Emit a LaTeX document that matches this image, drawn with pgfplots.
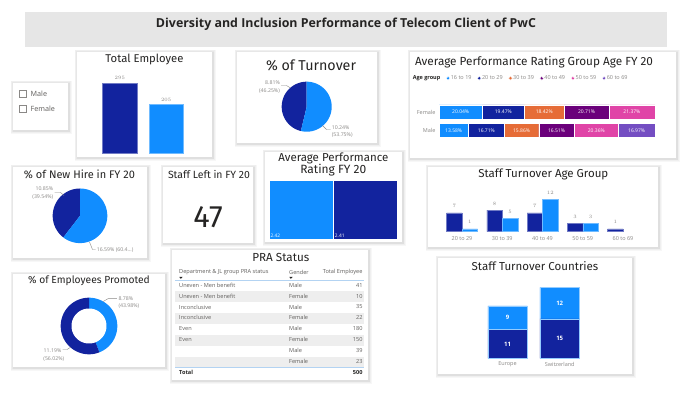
\documentclass[border=0pt]{standalone}
\usepackage{fontspec}
\setmainfont{Open Sans}
\newfontfamily\din{Fira Sans}
\usepackage{graphicx}
\usepackage{pgfplots}
\pgfplotsset{compat=1.18}
\definecolor{pbBlue}{HTML}{118DFF}
\definecolor{pbNavy}{HTML}{12239E}
\definecolor{pbOrange}{HTML}{E66C37}
\definecolor{pbPurple}{HTML}{6B007B}
\definecolor{pbPink}{HTML}{E044A7}
\definecolor{pbViolet}{HTML}{744EC2}
\definecolor{txt}{HTML}{252423}
\definecolor{lbl}{HTML}{8A8886}
\definecolor{tbl}{HTML}{605E5C}
\definecolor{hdr}{HTML}{E6E6E6}
\definecolor{rowgray}{HTML}{EEEEEE}
\definecolor{tline}{HTML}{B3D3F2}
\newcommand\fs[1]{\fontsize{#1}{#1}\selectfont}
\newcommand\ptitle[2]{\resizebox{#1pt}{!}{\din\fs{10}\color{txt}#2}}
\newcommand\panel[4]{%
  \foreach \k in {3.2,2.4,1.6,0.8}{\fill[black,opacity=0.03] ({(#1-\k+0.8)*1pt},{(#2-\k-0.8)*1pt}) rectangle ({(#3+\k+0.8)*1pt},{(#4+\k-0.8)*1pt});}%
  \fill[white] (#1pt,#2pt) rectangle (#3pt,#4pt);}
\pgfplotsset{
  dotleg/.style={legend image code/.code={\fill[##1] (0pt,0pt) circle (1.8pt);}},
  pie/.style={scale only axis, width=#1, height=#1, xmin=-1, xmax=1, ymin=-1, ymax=1, hide axis, clip=false, anchor=center},
}
\begin{document}
\begin{tikzpicture}
\useasboundingbox (0pt,0pt) rectangle (680pt,393pt);
\fill[white] (0pt,0pt) rectangle (680pt,393pt);
% title bar
\fill[hdr] (25pt,346pt) rectangle (667pt,381pt);
\node[text=txt] at (346pt,368.5pt) {\resizebox{380pt}{!}{\bfseries Diversity and Inclusion Performance of Telecom Client of PwC}};

% panels
\panel{13}{263}{68}{310}
\panel{77}{236}{212}{341}
\panel{237}{250}{377}{341}
\panel{410}{235}{676}{341}
\panel{13}{135}{147}{226}
\panel{163}{150}{253}{226}
\panel{265}{151}{402}{241}
\panel{428}{146}{658}{226}
\panel{13}{26}{165}{119}
\panel{172}{13}{368}{143}
\panel{438}{19}{632}{135}

% slicer
\draw[lbl, line width=0.5pt] (19.3pt,295.3pt) rectangle (26.3pt,302.3pt);
\node[anchor=west, text=tbl, font=\fs{7.2}, inner sep=0pt] at (30.5pt,298.8pt) {Male};
\draw[lbl, line width=0.5pt] (19.3pt,280.3pt) rectangle (26.3pt,287.3pt);
\node[anchor=west, text=tbl, font=\fs{7.2}, inner sep=0pt] at (30.5pt,283.8pt) {Female};

% Total Employee
\node at (144.5pt,333.7pt) {\ptitle{78}{Total Employee}};
\begin{axis}[scale only axis, at={(96.7pt,239.7pt)}, anchor=south west, width=92.6pt, height=70pt,
  xmin=-0.5, xmax=1.5, ymin=0, ymax=295, hide axis, clip=false, ybar, bar width=34.3pt,
  nodes near coords, nodes near coords style={font=\fs{5}, text=lbl}]
\addplot[fill=pbNavy, draw=pbNavy!60!white, line width=0.5pt, bar shift=0pt] coordinates {(0,295)};
\addplot[fill=pbBlue, draw=pbBlue!60!white, line width=0.5pt, bar shift=0pt] coordinates {(1,205)};
\end{axis}

% % of Turnover
\node at (311pt,328pt) {\ptitle{90}{\% of Turnover}};
\begin{axis}[pie=50pt, at={(306.7pt,286.3pt)}]
\addplot[fill=pbNavy, draw=none, domain=90:{90+3.6*46.25}, samples=60] ({cos(x)},{sin(x)}) -- (axis cs:0,0) -- cycle;
\addplot[fill=pbBlue, draw=none, domain={90+3.6*46.25}:450, samples=70] ({cos(x)},{sin(x)}) -- (axis cs:0,0) -- cycle;
\end{axis}
\draw[lbl, line width=0.4pt] (281pt,307.5pt) -- (286.5pt,307.5pt) -- (290.5pt,305pt);
\draw[lbl, line width=0.4pt] (322.5pt,267.5pt) -- (326.5pt,263.5pt) -- (330.5pt,263.5pt);
\node[anchor=east, text=lbl, font=\fs{5.2}, inner sep=0pt] at (280pt,310.7pt) {8.81\%};
\node[anchor=east, text=lbl, font=\fs{5.2}, inner sep=0pt] at (280pt,302.3pt) {(46.25\%)};
\node[anchor=west, text=lbl, font=\fs{5.2}, inner sep=0pt] at (331.7pt,265.7pt) {10.24\%};
\node[anchor=west, text=lbl, font=\fs{5.2}, inner sep=0pt] at (331.7pt,257.7pt) {(53.75\%)};

% Average Performance Rating Group Age
\node at (534pt,331.3pt) {\ptitle{238}{Average Performance Rating Group Age FY 20}};
\begin{axis}[scale only axis, at={(439pt,253.55pt)}, anchor=south west, width=216pt, height=36.6pt,
  xmin=0, xmax=100.02, ymin=-0.5, ymax=1.5, xbar stacked, bar width=14pt,
  axis line style={draw=none}, major tick length=0pt, xtick=\empty, ytick={0,1}, yticklabels={Male,Female},
  yticklabel style={font=\fs{5.5}, text=lbl}, clip=false,
  point meta=explicit symbolic, nodes near coords,
  every node near coord/.append style={anchor=center, font=\fs{5}, text=white},
  legend columns=-1,
  legend style={draw=none, fill=none, at={(axis description cs:-0.14,1.671)}, anchor=west, font=\fs{5.5},
    nodes={text=lbl, inner sep=0.8pt}, /tikz/every even column/.append style={column sep=5pt}},
  legend cell align=left]
\addlegendimage{empty legend}\addlegendentry{\textcolor{txt}{\bfseries Age group}}
\addplot[fill=pbBlue, draw=white, line width=0.3pt, dotleg] coordinates {(13.58,0) [13.58\%] (20.04,1) [20.04\%]};
\addlegendentry{16 to 19}
\addplot[fill=pbNavy, draw=white, line width=0.3pt, dotleg] coordinates {(16.71,0) [16.71\%] (19.47,1) [19.47\%]};
\addlegendentry{20 to 29}
\addplot[fill=pbOrange, draw=white, line width=0.3pt, dotleg] coordinates {(15.86,0) [15.86\%] (18.42,1) [18.42\%]};
\addlegendentry{30 to 39}
\addplot[fill=pbPurple, draw=white, line width=0.3pt, dotleg] coordinates {(16.51,0) [16.51\%] (20.71,1) [20.71\%]};
\addlegendentry{40 to 49}
\addplot[fill=pbPink, draw=white, line width=0.3pt, dotleg] coordinates {(20.36,0) [20.36\%] (21.37,1) [21.37\%]};
\addlegendentry{50 to 59}
\addplot[fill=pbViolet, draw=white, line width=0.3pt, dotleg] coordinates {(16.97,0) [16.97\%]};
\addlegendentry{60 to 69}
\end{axis}

% % of New Hire
\node at (79.5pt,219pt) {\ptitle{111}{\% of New Hire in FY 20}};
\begin{axis}[pie=54.6pt, at={(80pt,177.2pt)}]
\addplot[fill=pbNavy, draw=none, domain=90:{90+3.6*39.54}, samples=60] ({cos(x)},{sin(x)}) -- (axis cs:0,0) -- cycle;
\addplot[fill=pbBlue, draw=none, domain={90+3.6*39.54}:450, samples=80] ({cos(x)},{sin(x)}) -- (axis cs:0,0) -- cycle;
\end{axis}
\draw[lbl, line width=0.4pt] (54.5pt,200.5pt) -- (60.5pt,200.5pt) -- (64pt,197.5pt);
\draw[lbl, line width=0.4pt] (89.5pt,151pt) -- (92.5pt,143.5pt) -- (95.5pt,143.5pt);
\node[anchor=east, text=lbl, font=\fs{5.2}, inner sep=0pt] at (53.3pt,204pt) {10.85\%};
\node[anchor=east, text=lbl, font=\fs{5.2}, inner sep=0pt] at (53.3pt,195.5pt) {(39.54\%)};
\node[anchor=west, text=lbl, font=\fs{5.2}, inner sep=0pt] at (96.7pt,143pt) {16.59\% (60.4...)};

% Staff Left
\node at (209pt,219pt) {\ptitle{82}{Staff Left in FY 20}};
\node[text=txt] at (208pt,176.3pt) {\resizebox{29.4pt}{!}{\din\fs{20}47}};

% Average Performance Rating FY 20 (treemap)
\node at (333.3pt,234.7pt) {\ptitle{110}{Average Performance}};
\node at (333.3pt,223pt) {\ptitle{66}{Rating FY 20}};
\begin{axis}[scale only axis, at={(269pt,154pt)}, anchor=south west, width=128.3pt, height=58.3pt,
  xmin=0, xmax=4.83, ymin=0, ymax=1, hide axis, clip=false]
\addplot[fill=pbBlue, draw=white, line width=0.7pt] coordinates {(0,1) (2.42,1)} \closedcycle;
\addplot[fill=pbNavy, draw=white, line width=0.7pt] coordinates {(2.42,1) (4.83,1)} \closedcycle;
\node[anchor=south west, text=white, font=\fs{4.8}, inner sep=1.5pt] at (axis cs:0,0) {2.42};
\node[anchor=south west, text=white, font=\fs{4.8}, inner sep=1.5pt] at (axis cs:2.42,0) {2.41};
\end{axis}

% Staff Turnover Age Group
\node at (543.3pt,219pt) {\ptitle{130}{Staff Turnover Age Group}};
\begin{axis}[scale only axis, at={(441.9pt,161.3pt)}, anchor=south west, width=201.25pt, height=32.4pt,
  xmin=-0.5, xmax=4.5, ymin=0, ymax=12, ybar=0pt, bar width=15.5pt,
  axis line style={draw=none}, major tick length=0pt, ytick=\empty, xtick={0,...,4},
  xticklabels={20 to 29,30 to 39,40 to 49,50 to 59,60 to 69},
  xticklabel style={font=\fs{5.5}, text=lbl, yshift=-1.5pt}, clip=false,
  nodes near coords, nodes near coords style={font=\fs{5.5}, text=lbl, yshift=1.5pt}]
\addplot[fill=pbNavy, draw=pbNavy!60!white, line width=0.5pt] coordinates {(0,7) (1,8) (2,7) (3,3) (4,1)};
\addplot[fill=pbBlue, draw=pbBlue!60!white, line width=0.5pt] coordinates {(0,1) (1,5) (2,12) (3,3)};
\end{axis}

% % of Employees Promoted
\node at (89pt,112.3pt) {\ptitle{121.7}{\% of Employees Promoted}};
\begin{axis}[pie=56.6pt, at={(89pt,67pt)}]
\addplot[fill=pbBlue, draw=none, domain={90-3.6*43.98}:90, samples=60] ({cos(x)},{sin(x)}) -- (axis cs:0,0) -- cycle;
\addplot[fill=pbNavy, draw=none, domain=90:{90+3.6*56.02}, samples=80] ({cos(x)},{sin(x)}) -- (axis cs:0,0) -- cycle;
\addplot[fill=white, draw=none, domain=0:360, samples=100] ({0.618*cos(x)},{0.618*sin(x)}) -- cycle;
\end{axis}
\draw[lbl, line width=0.4pt] (103.2pt,91.5pt) -- (108pt,94.3pt) -- (116.8pt,94.3pt);
\draw[lbl, line width=0.4pt] (62.5pt,43.5pt) -- (67pt,43.5pt) -- (71pt,46pt);
\node[anchor=west, text=lbl, font=\fs{5.2}, inner sep=0pt] at (118.3pt,94.7pt) {8.78\%};
\node[anchor=west, text=lbl, font=\fs{5.2}, inner sep=0pt] at (118.3pt,87.3pt) {(43.98\%)};
\node[text=lbl, font=\fs{5.2}, inner sep=0pt] at (52.5pt,42.3pt) {11.19\%};
\node[text=lbl, font=\fs{5.2}, inner sep=0pt] at (53.8pt,34pt) {(56.02\%)};

% PRA Status table
\node at (280.8pt,135.7pt) {\ptitle{57}{PRA Status}};
\node[anchor=west, text=tbl, font=\fs{5.6}, inner sep=0pt] at (179pt,120.7pt) {Department \& JL group PRA status};
\node[anchor=west, text=tbl, font=\fs{5.6}, inner sep=0pt] at (289pt,120.7pt) {Gender};
\node[anchor=east, text=tbl, font=\fs{5.6}, inner sep=0pt] at (362.7pt,120.7pt) {Total Employee};
\fill[txt] (179.3pt,116pt) -- (182.5pt,116pt) -- (180.9pt,114.2pt) -- cycle;
\fill[txt] (289.3pt,116pt) -- (292.5pt,116pt) -- (290.9pt,114.2pt) -- cycle;
\draw[tline, line width=1.1pt] (175pt,112.2pt) -- (364pt,112.2pt);
\foreach [count=\i from 0] \d/\g/\v in {Uneven - Men benefit/Male/41, Uneven - Men benefit/Female/10,
   Inconclusive/Male/35, Inconclusive/Female/22, Even/Male/180, Even/Female/150, /Male/39, /Female/23} {
  \pgfmathsetmacro\yy{107-10.9*\i}
  \ifodd\i \fill[rowgray] (175pt,\yy pt-5.4pt) rectangle (364pt,\yy pt+5.4pt); \fi
  \node[anchor=west, text=tbl, font=\fs{5.6}, inner sep=0pt] at (179pt,\yy pt) {\strut\d};
  \node[anchor=west, text=tbl, font=\fs{5.6}, inner sep=0pt] at (289pt,\yy pt) {\strut\g};
  \node[anchor=east, text=tbl, font=\fs{5.6}, inner sep=0pt] at (362.7pt,\yy pt) {\strut\v};
}
\draw[tline, line width=1.1pt] (175pt,25.3pt) -- (364pt,25.3pt);
\node[anchor=west, text=txt, font=\fs{5.6}\bfseries, inner sep=0pt] at (179pt,20.3pt) {Total};
\node[anchor=east, text=txt, font=\fs{5.6}\bfseries, inner sep=0pt] at (362.7pt,20.3pt) {500};

% Staff Turnover Countries
\node at (535pt,127.3pt) {\ptitle{126.7}{Staff Turnover Countries}};
\begin{axis}[scale only axis, at={(481.4pt,34.7pt)}, anchor=south west, width=104.4pt, height=70.8pt,
  xmin=-0.5, xmax=1.5, ymin=0, ymax=27, ybar stacked, bar width=39.5pt,
  axis line style={draw=none}, major tick length=0pt, ytick=\empty, xtick={0,1},
  xticklabels={Europe,Switzerland}, xticklabel style={font=\fs{5.5}, text=lbl}, clip=false,
  point meta=explicit symbolic, nodes near coords,
  every node near coord/.append style={anchor=center, font=\fs{6}\bfseries, text=white}]
\addplot[fill=pbNavy, draw=pbBlue!45!white, line width=0.5pt] coordinates {(0,11) [11] (1,15) [15]};
\addplot[fill=pbBlue, draw=pbBlue!45!white, line width=0.5pt] coordinates {(0,9) [9] (1,12) [12]};
\end{axis}
\end{tikzpicture}
\end{document}
